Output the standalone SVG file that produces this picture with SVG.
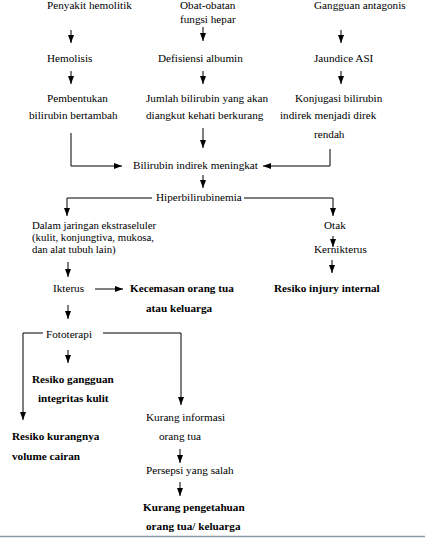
<svg xmlns="http://www.w3.org/2000/svg" width="425" height="539" viewBox="0 0 425 539" font-family="'Liberation Serif', 'DejaVu Serif', serif">
<defs>
<marker id="ah" viewBox="0 0 8 8" refX="8" refY="4" markerWidth="8" markerHeight="8" markerUnits="userSpaceOnUse" orient="auto">
<path d="M0,1 L8,4 L0,7 Z" fill="#000"/>
</marker>
</defs>
<style>
text{font-family:'Liberation Serif','DejaVu Serif',serif;font-size:11.2px;fill:#000}
.b{font-weight:bold}
.s{font-size:10.8px}
.c path{fill:none;stroke:#000;stroke-width:1}
.a{marker-end:url(#ah)}
</style>
<rect x="0" y="0" width="425" height="539" fill="#fff"/>
<g id="n1"><text x="47" y="9">Penyakit hemolitik</text></g>
<g id="n2"><text x="180" y="9">Obat-obatan</text><text x="180" y="23">fungsi hepar</text></g>
<g id="n3"><text x="314" y="9">Gangguan antagonis</text></g>
<g id="n4"><text x="47" y="62">Hemolisis</text></g>
<g id="n5"><text x="158" y="62">Defisiensi albumin</text></g>
<g id="n6"><text x="314" y="62">Jaundice ASI</text></g>
<g id="n7"><text x="47" y="102">Pembentukan</text><text x="29" y="119">bilirubin bertambah</text></g>
<g id="n8"><text x="146" y="102">Jumlah bilirubin yang akan</text><text x="146" y="119">diangkut kehati berkurang</text></g>
<g id="n9"><text x="295" y="102">Konjugasi bilirubin</text><text x="280" y="119">indirek menjadi direk</text><text x="314" y="138">rendah</text></g>
<g id="n10"><text x="133" y="169">Bilirubin indirek meningkat</text></g>
<g id="n11"><text x="156" y="201">Hiperbilirubinemia</text></g>
<g id="n12"><text class="s" x="32" y="229">Dalam jaringan ekstraseluler</text><text class="s" x="32" y="241">(kulit, konjungtiva, mukosa,</text><text class="s" x="32" y="253">dan alat tubuh lain)</text></g>
<g id="n13"><text x="324" y="229">Otak</text></g>
<g id="n14"><text x="314" y="253">Kernikterus</text></g>
<g id="n15"><text x="53" y="292">Ikterus</text></g>
<g id="n16"><text class="b" x="130" y="292">Kecemasan orang tua</text><text class="b" x="146" y="312">atau keluarga</text></g>
<g id="n17"><text class="b" x="274" y="292">Resiko injury internal</text></g>
<g id="n18"><text x="46" y="338">Fototerapi</text></g>
<g id="n19"><text class="b" x="32" y="383">Resiko gangguan</text><text class="b" x="38" y="402">integritas kulit</text></g>
<g id="n20"><text class="b" x="12" y="440">Resiko kurangnya</text><text class="b" x="12" y="460">volume cairan</text></g>
<g id="n21"><text x="146" y="421">Kurang informasi</text><text x="159" y="440">orang tua</text></g>
<g id="n22"><text x="146" y="474">Persepsi yang salah</text></g>
<g id="n23"><text class="b" x="143" y="511">Kurang pengetahuan</text><text class="b" x="146" y="530">orang tua/ keluarga</text></g>
<g id="connectors" class="c">
<path class="a" d="M71,30 V43"/>
<path class="a" d="M203,27 V41"/>
<path class="a" d="M341,30 V43"/>
<path class="a" d="M71,71 V84"/>
<path class="a" d="M203,71 V84"/>
<path class="a" d="M341,71 V84"/>
<path class="a" d="M71,133 V166 H122"/>
<path class="a" d="M203,128 V148"/>
<path class="a" d="M330,149 V166 H263"/>
<path class="a" d="M203,175 V188"/>
<path class="a" d="M152,198 H67 V216"/>
<path class="a" d="M244,198 H333 V216"/>
<path class="a" d="M333,236 V247"/>
<path class="a" d="M68,262 V277"/>
<path class="a" d="M332,260 V273"/>
<path class="a" d="M95,289 H123"/>
<path class="a" d="M68,305 V319"/>
<path class="a" d="M43,333 H23 V420"/>
<path class="a" d="M103,333 H181 V405"/>
<path class="a" d="M68,350 V363"/>
<path class="a" d="M180,449 V463"/>
<path class="a" d="M180,482 V496"/>
</g>
<path d="M0,536.5 H425" stroke="#8a96a8" stroke-width="1.5" fill="none"/>
</svg>
